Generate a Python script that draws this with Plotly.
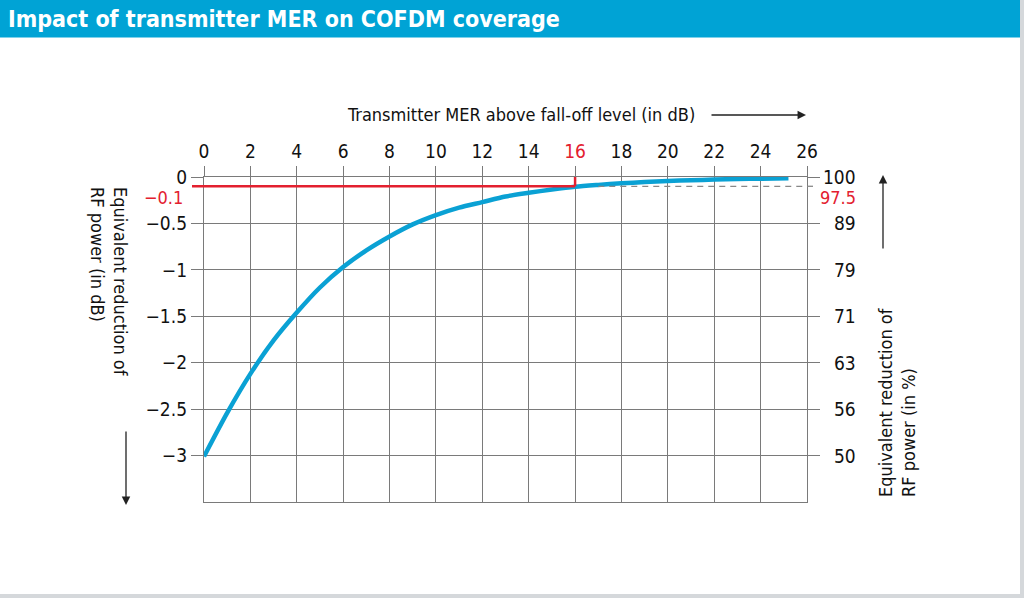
import plotly.graph_objects as go

# ---- data ----
mer_db = [0, 1, 2, 3, 4, 5, 6, 7, 8, 9, 10, 11, 12, 13, 14, 15, 16, 17, 18, 19, 20, 21, 22, 23, 24, 25.2]
reduction_db = [-3.01, -2.54, -2.12, -1.76, -1.46, -1.19, -0.97, -0.79, -0.64, -0.51, -0.41,
                -0.33, -0.27, -0.21, -0.17, -0.135, -0.105, -0.085, -0.068, -0.054, -0.043,
                -0.035, -0.028, -0.022, -0.018, -0.014]

x_ticks = [0, 2, 4, 6, 8, 10, 12, 14, 16, 18, 20, 22, 24, 26]
y_ticks = [0, -0.5, -1, -1.5, -2, -2.5, -3]
y_ticklabels = ["0", "\u22120.5", "\u22121", "\u22121.5", "\u22122", "\u22122.5", "\u22123"]
pct_labels = ["100", "89", "79", "71", "63", "56", "50"]
marker_mer = 16
marker_db = -0.1
marker_pct = "97.5"

RED = "#e3202f"
BLUE = "#0aa1d4"
GRID = "#7a7a7a"
FONT = "DejaVu Sans Condensed, Liberation Sans Narrow, sans-serif"

W, H = 1024, 598
L, R, T, B = 204, 807, 177, 502


def px(xp):
    return (xp - L) / (R - L)


def py(yp):
    return (B - yp) / (B - T)


fig = go.Figure()
fig.add_trace(go.Scatter(x=mer_db, y=reduction_db, mode="lines",
                         line=dict(color=BLUE, width=4.5, shape="spline", smoothing=0.8),
                         hoverinfo="skip", showlegend=False))

xt_text = [f'<span style="color:{RED}">{v}</span>' if v == marker_mer else str(v) for v in x_ticks]

fig.update_layout(
    width=W, height=H, margin=dict(l=L, r=W - R, t=T, b=H - B, pad=0),
    paper_bgcolor="white", plot_bgcolor="white",
    font=dict(family=FONT, size=19, color="#111"),
    xaxis=dict(range=[0, 26], side="top", tickvals=x_ticks, ticktext=xt_text,
               showgrid=True, gridcolor=GRID, gridwidth=1.3,
               ticks="outside", ticklen=10, tickcolor=GRID, tickwidth=1.3,
               showline=True, linecolor=GRID, linewidth=1.3, mirror=True,
               zeroline=False, tickfont=dict(size=19), fixedrange=True),
    yaxis=dict(range=[-3.5, 0], tickvals=y_ticks, ticktext=y_ticklabels,
               showgrid=True, gridcolor=GRID, gridwidth=1.3,
               ticks="outside", ticklen=12, tickcolor=GRID, tickwidth=1.3,
               showline=True, linecolor=GRID, linewidth=1.3, mirror="ticks",
               zeroline=False, tickfont=dict(size=19), fixedrange=True),
)

shapes = []
# title bar and frame strips
shapes.append(dict(type="rect", xref="paper", yref="paper", x0=px(0), x1=px(1020), y0=py(37.5), y1=py(0),
                   fillcolor="#00a3d5", line=dict(width=0), layer="below"))
shapes.append(dict(type="rect", xref="paper", yref="paper", x0=px(1020), x1=px(1024), y0=py(598), y1=py(0),
                   fillcolor="#d5d8db", line=dict(width=0), layer="below"))
shapes.append(dict(type="rect", xref="paper", yref="paper", x0=px(0), x1=px(1024), y0=py(598), y1=py(594),
                   fillcolor="#d5d8db", line=dict(width=0), layer="below"))
# red marker lines
shapes.append(dict(type="line", xref="paper", yref="y", x0=px(192), x1=marker_mer / 26.0, y0=marker_db, y1=marker_db,
                   line=dict(color=RED, width=2.5)))
shapes.append(dict(type="line", xref="x", yref="y", x0=marker_mer, x1=marker_mer, y0=marker_db, y1=0,
                   line=dict(color=RED, width=2.5)))
# dashed reference line
shapes.append(dict(type="line", xref="x", yref="y", x0=17.0, x1=26.0, y0=marker_db, y1=marker_db,
                   line=dict(color="#888", width=1.3, dash="6px,5px")))
shapes.append(dict(type="line", xref="paper", yref="y", x0=1.0, x1=px(818), y0=marker_db, y1=marker_db,
                   line=dict(color="#888", width=1.3, dash="6px,5px")))
fig.update_layout(shapes=shapes)

ann = []
ann.append(dict(xref="paper", yref="paper", x=px(6), y=py(19), xanchor="left", yanchor="middle",
                text="<b>Impact of transmitter MER on COFDM coverage</b>", showarrow=False,
                font=dict(family=FONT, size=23, color="white")))
ann.append(dict(xref="paper", yref="paper", x=px(345), y=py(115), xanchor="left", yanchor="middle",
                text="Transmitter MER above fall-off level (in dB)", showarrow=False,
                font=dict(size=18)))
# arrows
ann.append(dict(xref="paper", yref="paper", x=px(806), y=py(115), ax=-96, ay=0, text="", showarrow=True,
                arrowhead=2, arrowsize=1.3, arrowwidth=1.3, arrowcolor="#222"))
ann.append(dict(xref="paper", yref="paper", x=px(126), y=py(505), ax=0, ay=-75, text="", showarrow=True,
                arrowhead=2, arrowsize=1.3, arrowwidth=1.3, arrowcolor="#222"))
ann.append(dict(xref="paper", yref="paper", x=px(883), y=py(175), ax=0, ay=75, text="", showarrow=True,
                arrowhead=2, arrowsize=1.3, arrowwidth=1.3, arrowcolor="#222"))
# red labels
ann.append(dict(xref="paper", yref="paper", x=px(185), y=py(197), xanchor="right", yanchor="middle",
                text="\u2212" + str(abs(marker_db)), showarrow=False, font=dict(size=18, color=RED)))
# right-hand percentage labels
for v, t in zip(y_ticks, pct_labels):
    ann.append(dict(xref="paper", yref="y", x=px(858), y=v, xanchor="right", yanchor="middle",
                    text=t, showarrow=False, font=dict(size=19)))
ann.append(dict(xref="paper", yref="paper", x=px(858), y=py(197), xanchor="right", yanchor="middle",
                text=marker_pct, showarrow=False, font=dict(size=18, color=RED)))
# axis titles
ann.append(dict(xref="paper", yref="paper", x=px(109), y=py(185), xanchor="center", yanchor="top",
                text="Equivalent reduction of<br>RF power (in dB)", textangle=90, align="left",
                showarrow=False, font=dict(size=18)))
ann.append(dict(xref="paper", yref="paper", x=px(897), y=py(499), xanchor="center", yanchor="bottom",
                text="Equivalent reduction of<br>RF power (in %)", textangle=-90, align="left",
                showarrow=False, font=dict(size=18)))
fig.update_layout(annotations=ann)

fig.write_html("out.html")
